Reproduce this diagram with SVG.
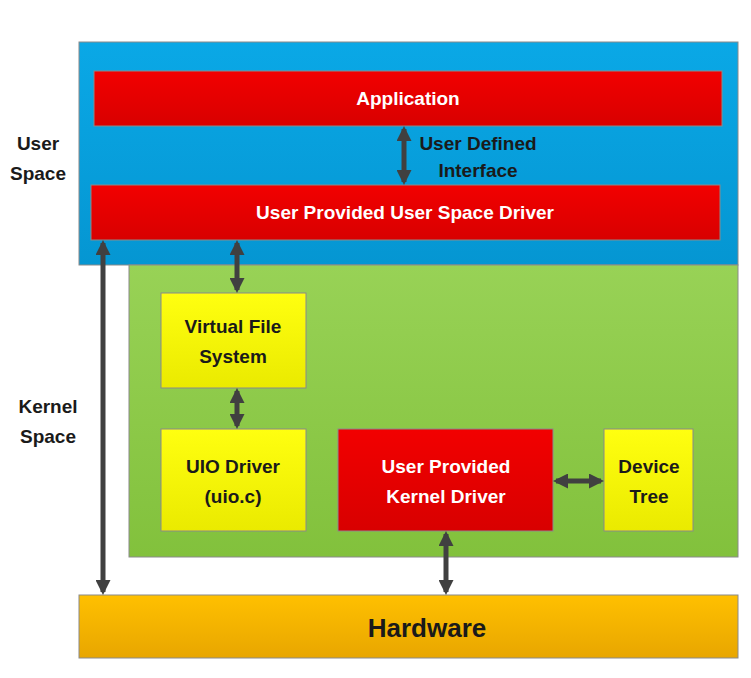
<svg xmlns="http://www.w3.org/2000/svg" width="751" height="678" viewBox="0 0 751 678">
<defs>
<linearGradient id="gBlue" x1="0" y1="0" x2="0" y2="1"><stop offset="0" stop-color="#0aa8e6"/><stop offset="1" stop-color="#0596d2"/></linearGradient>
<linearGradient id="gGreen" x1="0" y1="0" x2="0" y2="1"><stop offset="0" stop-color="#98d256"/><stop offset="1" stop-color="#82c13c"/></linearGradient>
<linearGradient id="gRed" x1="0" y1="0" x2="0" y2="1"><stop offset="0" stop-color="#f20000"/><stop offset="1" stop-color="#d80000"/></linearGradient>
<linearGradient id="gYel" x1="0" y1="0" x2="0" y2="1"><stop offset="0" stop-color="#ffff10"/><stop offset="1" stop-color="#eaea00"/></linearGradient>
<linearGradient id="gOr" x1="0" y1="0" x2="0" y2="1"><stop offset="0" stop-color="#ffc000"/><stop offset="1" stop-color="#e8a600"/></linearGradient>
<marker id="ah" viewBox="0 0 10 10" refX="8" refY="5" markerWidth="3" markerHeight="3" orient="auto-start-reverse"><path d="M0,0 L10,5 L0,10 z" fill="#404040"/></marker>
</defs>
<style>
.box{stroke:#8a8a8a;stroke-width:1}
.t{font-family:"Liberation Sans",Arial,sans-serif;font-weight:bold;font-size:19px;text-anchor:middle}
.w{fill:#fff}
.k{fill:#1a1a1a}
.c{stroke:#404040;stroke-width:5;fill:none;marker-start:url(#ah);marker-end:url(#ah)}
</style>
<rect width="751" height="678" fill="#fff"/>
<g id="userspace"><rect x="79" y="42" width="659" height="223" fill="url(#gBlue)" class="box"/></g>
<g id="kernelspace"><rect x="129" y="265" width="609" height="292" fill="url(#gGreen)" class="box"/></g>
<g id="labels">
<text class="t k" x="38" y="150">User</text><text class="t k" x="38" y="180">Space</text>
<text class="t k" x="48" y="413">Kernel</text><text class="t k" x="48" y="443">Space</text>
<text class="t k" x="478" y="150">User Defined</text><text class="t k" x="478" y="177">Interface</text>
</g>
<g id="app"><rect x="94" y="71" width="628" height="55" fill="url(#gRed)" class="box"/><text class="t w" x="408" y="105">Application</text></g>
<g id="uspdriver"><rect x="91" y="185" width="629" height="55" fill="url(#gRed)" class="box"/><text class="t w" x="405" y="219">User Provided User Space Driver</text></g>
<g id="vfs"><rect x="161" y="293" width="145" height="95" fill="url(#gYel)" class="box"/><text class="t k" x="233" y="333">Virtual File</text><text class="t k" x="233" y="363">System</text></g>
<g id="uio"><rect x="161" y="429" width="145" height="102" fill="url(#gYel)" class="box"/><text class="t k" x="233" y="473">UIO Driver</text><text class="t k" x="233" y="503">(uio.c)</text></g>
<g id="kdriver"><rect x="338" y="429" width="215" height="102" fill="url(#gRed)" class="box"/><text class="t w" x="446" y="473">User Provided</text><text class="t w" x="446" y="503">Kernel  Driver</text></g>
<g id="dtree"><rect x="604" y="429" width="89" height="102" fill="url(#gYel)" class="box"/><text class="t k" x="649" y="473">Device</text><text class="t k" x="649" y="503">Tree</text></g>
<g id="hardware"><rect x="79" y="595" width="659" height="63" fill="url(#gOr)" class="box"/><text class="t k" x="427" y="637" style="font-size:26px">Hardware</text></g>
<g id="connectors">
<line class="c" x1="404" y1="129" x2="404" y2="182"/>
<line class="c" x1="237" y1="243" x2="237" y2="290"/>
<line class="c" x1="237" y1="391" x2="237" y2="426"/>
<line class="c" x1="556" y1="481" x2="601" y2="481"/>
<line class="c" x1="446" y1="534" x2="446" y2="592"/>
<line class="c" x1="103" y1="243" x2="103" y2="592"/>
</g>
</svg>
